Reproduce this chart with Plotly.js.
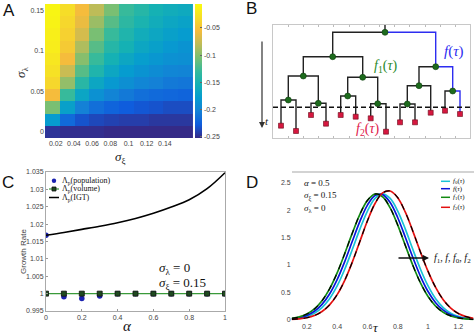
<!DOCTYPE html>
<html><head><meta charset="utf-8">
<script src="https://cdn.plot.ly/plotly-3.0.1.min.js"></script>
<style>html,body{margin:0;padding:0;background:#fff}#c{width:474px;height:336px}</style>
</head><body><div id="c"></div>
<script>
// ---------- Panel A data ----------
const sigXi = [0.0163, 0.0326, 0.0489, 0.0651, 0.0814, 0.0977, 0.1140, 0.1302, 0.1465, 0.1628];
const sigLambda = [0, 0.015, 0.03, 0.045, 0.06, 0.075, 0.09, 0.105, 0.12, 0.135, 0.15];
const gapZ = [
 [-0.247,-0.250,-0.250,-0.250,-0.252,-0.252,-0.252,-0.252,-0.252,-0.252],
 [-0.178,-0.218,-0.232,-0.237,-0.240,-0.242,-0.242,-0.245,-0.245,-0.245],
 [-0.104,-0.173,-0.203,-0.215,-0.222,-0.227,-0.230,-0.232,-0.235,-0.235],
 [-0.055,-0.129,-0.168,-0.188,-0.200,-0.208,-0.215,-0.218,-0.220,-0.222],
 [-0.036,-0.095,-0.139,-0.166,-0.181,-0.190,-0.198,-0.203,-0.208,-0.210],
 [-0.028,-0.075,-0.117,-0.146,-0.166,-0.178,-0.186,-0.193,-0.198,-0.200],
 [-0.023,-0.055,-0.099,-0.129,-0.154,-0.166,-0.176,-0.183,-0.188,-0.190],
 [-0.018,-0.045,-0.085,-0.117,-0.141,-0.154,-0.166,-0.173,-0.181,-0.186],
 [-0.016,-0.040,-0.070,-0.104,-0.129,-0.146,-0.159,-0.166,-0.173,-0.178],
 [-0.013,-0.036,-0.060,-0.092,-0.117,-0.136,-0.149,-0.159,-0.166,-0.171],
 [-0.011,-0.031,-0.055,-0.080,-0.104,-0.129,-0.141,-0.154,-0.159,-0.163]
];
const aXTicks = [0.02,0.04,0.06,0.08,0.1,0.12,0.14];
const aXTickText = ["0.02","0.04","0.06","0.08","0.1","0.12","0.14"];
const aYTicks = [0,0.05,0.1,0.15];
const aYTickText = ["0","0.05","0.1","0.15"];
const cbTicks = [-0.25,-0.2,-0.15,-0.1,-0.05];
const cbTickText = ["-0.25","-0.2","-0.15","-0.1","-0.05"];

// ---------- Panel B data (tree, in panel pixel units) ----------
const nodeX = [385, 332.7, 303.3, 288.3, 318.3, 362.7, 347.7, 377.7, 435.7, 419, 407.3, 452.7];
const nodeY = [32.3, 56.7, 76, 100, 103.3, 77.3, 96, 103.7, 66.7, 85.7, 104, 91];
const nodeParent = [-1, 0, 1, 2, 2, 1, 5, 5, 0, 8, 9, 8];
const leafX = [281, 296, 311, 326, 340.7, 355.7, 370.7, 386, 400, 415, 430.7, 445, 460];
const leafY = [125.7, 131, 115, 123.7, 115, 116.7, 118.3, 131.7, 122.3, 122.3, 112.7, 110.7, 114];
const leafParent = [3, 3, 4, 4, 6, 6, 7, 7, 10, 10, 9, 11, 11];
const blueNodes = [8, 11];
const blueLeaves = [12];
const treeTop = 25;
const cutLevel = 107.3;

// ---------- Panel C data ----------
const alphaVals = [0,0.1,0.2,0.3,0.4,0.5,0.6,0.7,0.8,0.9,1];
const growthPop = [1.0168,0.9991,0.9986,0.9993,1,1,1,1,1,1,1];
const growthVol = [1,1,1,1,1,1,1,1,1,1,1];
const growthIGT = [1.0168,1.0176,1.0185,1.0194,1.0204,1.0216,1.0231,1.0249,1.0270,1.0302,1.0348];
const cYTicks = [0.995,1,1.005,1.01,1.015,1.02,1.025,1.03,1.035];
const cYTickText = ["0.995","1","1.005","1.01","1.015","1.02","1.025","1.03","1.035"];
const cXTicks = [0,0.2,0.4,0.6,0.8,1];
const cXTickText = ["0","0.2","0.4","0.6","0.8","1"];

// ---------- Panel D data ----------
const tau = [0.1,0.15,0.2,0.25,0.3,0.35,0.4,0.45,0.5,0.55,0.6,0.65,0.7,0.75,0.8,0.85,0.9,0.95,1.0,1.05,1.1,1.15,1.2,1.25,1.3];
const f1 = [0.024,0.051,0.104,0.197,0.346,0.565,0.857,1.208,1.582,1.927,2.182,2.297,2.247,2.043,1.728,1.357,0.991,0.673,0.425,0.249,0.136,0.069,0.032,0.014,0.006];
const fMain = [0.017,0.038,0.079,0.154,0.279,0.469,0.732,1.062,1.433,1.797,2.095,2.270,2.287,2.141,1.864,1.508,1.134,0.793,0.515,0.311,0.175,0.091,0.044,0.020,0.008];
const f0 = [0.012,0.028,0.060,0.119,0.222,0.384,0.618,0.923,1.282,1.656,1.987,2.218,2.300,2.218,1.987,1.656,1.282,0.923,0.618,0.384,0.222,0.119,0.060,0.028,0.012];
const f2 = [0.007,0.016,0.036,0.076,0.149,0.271,0.458,0.720,1.053,1.431,1.808,2.124,2.318,2.352,2.230,1.965,1.615,1.236,0.884,0.590,0.366,0.212,0.113,0.056,0.025];
const dXTicks = [0.2,0.4,0.6,0.8,1,1.2];
const dXTickText = ["0.2","0.4","0.6","0.8","1","1.2"];
const dYTicks = [0,0.5,1,1.5,2,2.5];
const dYTickText = ["0","0.5","1","1.5","2","2.5"];

// ---------- helpers ----------
const W = 474, H = 336;
const px = x => x / W;
const py = y => 1 - y / H;
const SANS = "Liberation Sans, Arial, sans-serif";
const SERIF = "Liberation Serif, Times New Roman, serif";
const tickFont = {family: SANS, size: 7, color: "#444"};

const parula = [
 [0.0,'rgb(53,42,135)'],[0.1,'rgb(15,92,221)'],[0.2,'rgb(20,129,214)'],
 [0.3,'rgb(6,156,207)'],[0.4,'rgb(21,177,180)'],[0.5,'rgb(55,186,155)'],
 [0.6,'rgb(120,191,115)'],[0.7,'rgb(190,188,88)'],[0.8,'rgb(245,188,60)'],
 [0.9,'rgb(246,222,40)'],[1.0,'rgb(249,251,14)']];

function treeSegments(blue) {
  const xs = [], ys = [];
  nodeParent.forEach((p, i) => {
    if (p < 0) return;
    if (blueNodes.includes(i) !== blue) return;
    xs.push(nodeX[p], nodeX[i], nodeX[i], null);
    ys.push(nodeY[p], nodeY[p], nodeY[i], null);
  });
  leafParent.forEach((p, i) => {
    if (blueLeaves.includes(i) !== blue) return;
    xs.push(nodeX[p], leafX[i], leafX[i], null);
    ys.push(nodeY[p], nodeY[p], leafY[i], null);
  });
  if (!blue) { xs.push(nodeX[0], nodeX[0], null); ys.push(treeTop, nodeY[0], null); }
  return {xs, ys};
}
const blackSeg = treeSegments(false), blueSeg = treeSegments(true);

const data = [
  {type:'heatmap', x:sigXi, y:sigLambda, z:gapZ, xaxis:'x', yaxis:'y',
   colorscale:parula, zmin:-0.252, zmax:-0.006, showscale:true,
   colorbar:{x:px(195), xanchor:'left', y:py(71), yanchor:'middle', len:134/H, lenmode:'fraction',
     thickness:7, thicknessmode:'pixels', outlinewidth:0, xpad:0, ypad:0,
     tickvals:cbTicks, ticktext:cbTickText, ticks:'inside', ticklen:2, tickcolor:'#666',
     tickfont:tickFont}},
  {type:'scatter', mode:'lines', x:blackSeg.xs, y:blackSeg.ys, xaxis:'x2', yaxis:'y2',
   line:{color:'#222', width:1.4}, showlegend:false, hoverinfo:'skip'},
  {type:'scatter', mode:'lines', x:blueSeg.xs, y:blueSeg.ys, xaxis:'x2', yaxis:'y2',
   line:{color:'#2d2df0', width:1.4}, showlegend:false, hoverinfo:'skip'},
  {type:'scatter', mode:'markers', x:leafX, y:leafY, xaxis:'x2', yaxis:'y2',
   marker:{symbol:'square', size:5, color:'#d6173f', line:{color:'#6a0a1a', width:0.6}}, showlegend:false},
  {type:'scatter', mode:'markers', x:nodeX, y:nodeY, xaxis:'x2', yaxis:'y2',
   marker:{symbol:'circle', size:6, color:'#1d6b1d', line:{color:'#0c3a0c', width:0.6}}, showlegend:false},
  {type:'scatter', mode:'markers', x:alphaVals, y:growthPop, xaxis:'x3', yaxis:'y3',
   marker:{symbol:'circle', size:5.5, color:'#1a22b0'}, showlegend:false},
  {type:'scatter', mode:'lines+markers', x:alphaVals, y:growthVol, xaxis:'x3', yaxis:'y3',
   line:{color:'#3a9a3a', width:1.2},
   marker:{symbol:'square', size:5, color:'#1f4a1f', line:{color:'#111', width:0.8}}, showlegend:false},
  {type:'scatter', mode:'lines', x:alphaVals, y:growthIGT, xaxis:'x3', yaxis:'y3',
   line:{color:'#000', width:1.6, shape:'spline'}, showlegend:false},
  {type:'scatter', mode:'lines', x:tau, y:f0, xaxis:'x4', yaxis:'y4', line:{color:'#19c3d6', width:1.7, shape:'spline'}, showlegend:false},
  {type:'scatter', mode:'lines', x:tau, y:fMain, xaxis:'x4', yaxis:'y4', line:{color:'#0a14d8', width:1.7, shape:'spline'}, showlegend:false},
  {type:'scatter', mode:'lines', x:tau, y:f1, xaxis:'x4', yaxis:'y4', line:{color:'#128a12', width:1.7, shape:'spline'}, showlegend:false},
  {type:'scatter', mode:'lines', x:tau, y:f2, xaxis:'x4', yaxis:'y4', line:{color:'#e31010', width:1.7, shape:'spline'}, showlegend:false},
  {type:'scatter', mode:'lines', x:tau, y:f1, xaxis:'x4', yaxis:'y4', line:{color:'#000', width:1.2, dash:'6px,6px', shape:'spline'}, showlegend:false},
  {type:'scatter', mode:'lines', x:tau, y:f2, xaxis:'x4', yaxis:'y4', line:{color:'#000', width:1.2, dash:'6px,6px', shape:'spline'}, showlegend:false}
];

const noGrid = {showgrid:false, zeroline:false};
const layout = {
  width:W, height:H, margin:{l:0,r:0,t:0,b:0}, paper_bgcolor:'#fff', plot_bgcolor:'rgba(0,0,0,0)',
  showlegend:false, font:{family:SANS, size:7, color:'#444'},
  xaxis:Object.assign({domain:[px(45), px(193)], range:[0.0082,0.1709], autorange:false, type:'linear', anchor:'y',
    tickmode:'array', tickvals:aXTicks, ticktext:aXTickText, tickfont:tickFont, ticks:'', showline:false}, noGrid),
  yaxis:Object.assign({domain:[py(138), py(4)], range:[-0.0075,0.1575], autorange:false, type:'linear', anchor:'x',
    tickmode:'array', tickvals:aYTicks, ticktext:aYTickText, tickfont:tickFont, ticks:'', showline:false}, noGrid),
  xaxis2:Object.assign({domain:[px(273), px(470)], range:[273,470], autorange:false, anchor:'y2',
    showline:true, mirror:'allticks', linecolor:'#c8c8c8', linewidth:1, ticks:'inside', ticklen:2,
    tickcolor:'#bbb', tick0:273, dtick:15.2, showticklabels:false}, noGrid),
  yaxis2:Object.assign({domain:[py(138), py(25)], range:[138,25], autorange:false, anchor:'x2',
    showline:true, mirror:true, linecolor:'#c8c8c8', linewidth:1, ticks:'', showticklabels:false}, noGrid),
  xaxis3:Object.assign({domain:[px(46), px(225)], range:[0,1], autorange:false, anchor:'y3',
    tickvals:cXTicks, ticktext:cXTickText, tickfont:tickFont, showline:true, mirror:true,
    linecolor:'#aaa', linewidth:1, ticks:'inside', ticklen:2, tickcolor:'#999'}, noGrid),
  yaxis3:Object.assign({domain:[py(311), py(172)], range:[0.995,1.035], autorange:false, anchor:'x3',
    tickvals:cYTicks, ticktext:cYTickText, tickfont:tickFont, showline:true, mirror:true,
    linecolor:'#aaa', linewidth:1, ticks:'inside', ticklen:2, tickcolor:'#999'}, noGrid),
  xaxis4:Object.assign({domain:[px(291.7), px(473.5)], range:[0.1,1.3], autorange:false, anchor:'y4',
    tickvals:dXTicks, ticktext:dXTickText, tickfont:tickFont, showline:false, ticks:''}, noGrid),
  yaxis4:Object.assign({domain:[py(320.8), py(172)], range:[-0.02,2.70], autorange:false, anchor:'x4',
    tickvals:dYTicks, ticktext:dYTickText, tickfont:tickFont, showline:false, ticks:''}, noGrid),
  shapes:[
    {type:'line', xref:'x2', yref:'y2', x0:273, x1:470, y0:cutLevel, y1:cutLevel, line:{color:'#111', width:1.5, dash:'5px,3px'}},
    {type:'line', xref:'paper', yref:'paper', x0:px(292), x1:1, y0:py(172), y1:py(172), line:{color:'#a8a8a8', width:1.2}},
    {type:'circle', xref:'paper', yref:'paper', x0:px(51.8), x1:px(56.2), y0:py(183), y1:py(178.6), fillcolor:'#1a22b0', line:{width:0}},
    {type:'line', xref:'paper', yref:'paper', x0:px(49), x1:px(59), y0:py(189), y1:py(189), line:{color:'#3a9a3a', width:1.2}},
    {type:'rect', xref:'paper', yref:'paper', x0:px(52), x1:px(56), y0:py(191), y1:py(187), fillcolor:'#1f4a1f', line:{color:'#111', width:0.8}},
    {type:'line', xref:'paper', yref:'paper', x0:px(49), x1:px(59), y0:py(197.5), y1:py(197.5), line:{color:'#000', width:1.5}},
    {type:'line', xref:'paper', yref:'paper', x0:px(441), x1:px(450), y0:py(181.3), y1:py(181.3), line:{color:'#19c3d6', width:1.5}},
    {type:'line', xref:'paper', yref:'paper', x0:px(441), x1:px(450), y0:py(188.7), y1:py(188.7), line:{color:'#0a14d8', width:1.5}},
    {type:'line', xref:'paper', yref:'paper', x0:px(441), x1:px(450), y0:py(197.3), y1:py(197.3), line:{color:'#128a12', width:1.5}},
    {type:'line', xref:'paper', yref:'paper', x0:px(441), x1:px(450), y0:py(207.3), y1:py(207.3), line:{color:'#e31010', width:1.5}}
  ],
  annotations:[]
};

function ann(x, y, text, opts) {
  layout.annotations.push(Object.assign({xref:'paper', yref:'paper', x:px(x), y:py(y), text:text,
    showarrow:false, xanchor:'center', yanchor:'middle', font:{family:SERIF, size:12, color:'#111'}}, opts || {}));
}
ann(9, 10, 'A', {font:{family:SANS, size:17, color:'#111'}});
ann(252, 8, 'B', {font:{family:SANS, size:17, color:'#111'}});
ann(8, 182, 'C', {font:{family:SANS, size:17, color:'#111'}});
ann(252, 183, 'D', {font:{family:SANS, size:17, color:'#111'}});
ann(21, 73, '<i>σ</i><sub>λ</sub>', {textangle:-90, font:{family:SERIF, size:13, color:'#222'}});
ann(120, 157, '<i>σ</i><sub>ξ</sub>', {font:{family:SERIF, size:13, color:'#222'}});
ann(466, 51, '<i>f</i>(<i>τ</i>)', {xanchor:'right', font:{family:SERIF, size:15, color:'#2d2df0'}});
ann(385, 67, '<i>f</i><sub>1</sub>(<i>τ</i>)', {font:{family:SERIF, size:14, color:'#2a8a2a'}});
ann(367, 129, '<i>f</i><sub>2</sub>(<i>τ</i>)', {font:{family:SERIF, size:14, color:'#e0204a'}});
ann(267, 121, '<i>t</i>', {font:{family:SERIF, size:11, color:'#222'}});
layout.annotations.push({xref:'paper', yref:'paper', x:px(262), y:py(128), ax:0, ay:-88, text:'',
  showarrow:true, arrowhead:2, arrowsize:1, arrowwidth:1.2, arrowcolor:'#333'});
ann(23, 252, 'Growth Rate', {textangle:-90, font:{family:SANS, size:8, color:'#444'}});
ann(128, 336, '<i>α</i>', {yanchor:'bottom', font:{family:SERIF, size:15, color:'#111'}});
ann(157, 268, '<i>σ</i><sub>λ</sub> = 0', {xanchor:'left', font:{family:SERIF, size:13, color:'#111'}});
ann(157, 283, '<i>σ</i><sub>ξ</sub> = 0.15', {xanchor:'left', font:{family:SERIF, size:13, color:'#111'}});
ann(60, 181, 'Λ<sub>p</sub>(population)', {xanchor:'left', font:{family:SERIF, size:8, color:'#111'}});
ann(60, 189, 'Λ<sub>p</sub>(volume)', {xanchor:'left', font:{family:SERIF, size:8, color:'#111'}});
ann(60, 197.5, 'Λ<sub>p</sub>(IGT)', {xanchor:'left', font:{family:SERIF, size:8, color:'#111'}});
ann(302, 183, '<i>α</i> = 0.5', {xanchor:'left', font:{family:SERIF, size:9, color:'#111'}});
ann(302, 196, '<i>σ</i><sub>ξ</sub> = 0.15', {xanchor:'left', font:{family:SERIF, size:9, color:'#111'}});
ann(302, 208, '<i>σ</i><sub>λ</sub> = 0', {xanchor:'left', font:{family:SERIF, size:9, color:'#111'}});
ann(376, 337, '<i>τ</i>', {yanchor:'bottom', font:{family:SERIF, size:13, color:'#111'}});
ann(451, 181.3, '<i>f</i><sub>0</sub>(<i>τ</i>)', {xanchor:'left', font:{family:SERIF, size:7, color:'#111'}});
ann(451, 188.7, '<i>f</i>(<i>τ</i>)', {xanchor:'left', font:{family:SERIF, size:7, color:'#111'}});
ann(451, 197.3, '<i>f</i><sub>1</sub>(<i>τ</i>)', {xanchor:'left', font:{family:SERIF, size:7, color:'#111'}});
ann(451, 207.3, '<i>f</i><sub>2</sub>(<i>τ</i>)', {xanchor:'left', font:{family:SERIF, size:7, color:'#111'}});
layout.annotations.push({xref:'paper', yref:'paper', x:px(429), y:py(258), ax:-32, ay:0, text:'',
  showarrow:true, arrowhead:2, arrowsize:1, arrowwidth:1.3, arrowcolor:'#111'});
ann(432, 258, '<i>f</i><sub>1</sub>, <i>f</i>, <i>f</i><sub>0</sub>, <i>f</i><sub>2</sub>', {xanchor:'left', font:{family:SERIF, size:10, color:'#111'}});

Plotly.newPlot('c', data, layout, {staticPlot:true, displayModeBar:false});
</script></body></html>
